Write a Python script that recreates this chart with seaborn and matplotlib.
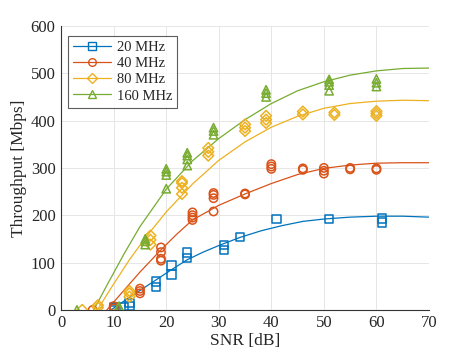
import numpy as np
import pandas as pd
import seaborn as sns
import matplotlib
matplotlib.use('Agg')
import matplotlib.pyplot as plt
from matplotlib.lines import Line2D

# measured points (SNR dB, throughput Mbps), several runs per SNR
snr_20 = [10, 10, 10, 12, 13, 13, 18, 18, 21, 21, 24, 24, 31, 31, 34, 41, 51, 61, 61]
thr_20 = [0, 3, 6, 5, 8, 14, 48, 60, 75, 94, 109, 121, 127, 137, 154, 192, 192, 193, 185]

snr_40 = [6, 10, 10, 15, 15, 15, 19, 19, 19, 19, 25, 25, 25, 25, 29, 29, 29, 29,
          35, 35, 40, 40, 40, 46, 46, 50, 50, 50, 55, 55, 60, 60]
thr_40 = [0, 3, 8, 35, 40, 45, 104, 108, 122, 132, 190, 195, 200, 206, 208, 236, 243, 247,
          244, 246, 298, 303, 308, 296, 299, 288, 294, 300, 297, 300, 296, 299]

snr_80 = [4, 7, 7, 13, 13, 13, 17, 17, 17, 23, 23, 23, 23, 28, 28, 28, 35, 35, 35,
          39, 39, 39, 46, 46, 52, 52, 60, 60, 60]
thr_80 = [0, 5, 10, 28, 35, 40, 138, 148, 157, 245, 258, 268, 272, 326, 334, 342, 378, 385, 392,
          395, 402, 410, 413, 419, 412, 417, 410, 415, 420]

snr_160 = [3, 11, 11, 16, 16, 16, 20, 20, 20, 20, 24, 24, 24, 24, 29, 29, 29,
           39, 39, 39, 51, 51, 51, 51, 60, 60, 60]
thr_160 = [0, 5, 8, 138, 145, 150, 256, 285, 292, 298, 305, 318, 326, 332, 370, 378, 385,
           450, 458, 465, 463, 475, 482, 487, 472, 480, 488]

# fitted curves
fit_x_20 = [9.5, 12, 15, 18, 21, 24, 27, 30, 34, 38, 42, 46, 50, 55, 60, 65, 70]
fit_y_20 = [0, 19, 41, 63, 85, 106, 122, 136, 153, 167, 178, 187, 192, 196, 198, 198, 196]

fit_x_40 = [8.7, 12, 15, 19, 22, 25, 30, 35, 40, 45, 50, 55, 60, 65, 70]
fit_y_40 = [0, 42, 80, 127, 160, 190, 221, 245, 267, 286, 299, 306, 310, 311, 311]

fit_x_80 = [6.9, 10, 13, 16, 20, 25, 30, 35, 40, 45, 50, 55, 60, 65, 70]
fit_y_80 = [0, 55, 106, 152, 207, 266, 316, 355, 386, 409, 426, 436, 441, 443, 442]

fit_x_160 = [6.2, 9, 12, 15, 20, 25, 30, 35, 40, 45, 50, 55, 60, 65, 70]
fit_y_160 = [0, 58, 119, 176, 255, 315, 362, 402, 436, 463, 482, 496, 505, 510, 511]

labels = ['20 MHz', '40 MHz', '80 MHz', '160 MHz']
colors = ['#0072BD', '#D95319', '#EDB120', '#77AC30']
markers = ['s', 'o', 'D', '^']

pts = [(snr_20, thr_20), (snr_40, thr_40), (snr_80, thr_80), (snr_160, thr_160)]
fits = [(fit_x_20, fit_y_20), (fit_x_40, fit_y_40), (fit_x_80, fit_y_80), (fit_x_160, fit_y_160)]

sns.set_style('white')
plt.rcParams['font.family'] = ['Liberation Serif', 'DejaVu Serif']

fig, ax = plt.subplots(figsize=(4.74, 3.55), dpi=100)
fig.subplots_adjust(left=0.129, right=0.905, bottom=0.127, top=0.927)

for (fx, fy), c in zip(fits, colors):
    sns.lineplot(x=fx, y=fy, color=c, lw=0.9, ax=ax, sort=False, zorder=2)

for (sx, sy), c, m in zip(pts, colors, markers):
    size = 30 if m == 'D' else 36
    sns.scatterplot(x=sx, y=sy, marker=m, s=size, facecolors='none', edgecolors=c,
                    linewidth=1.1, ax=ax, zorder=3)

ax.set_xlim(0, 70)
ax.set_ylim(0, 600)
ax.set_xticks(range(0, 71, 10))
ax.set_yticks(range(0, 601, 100))
ax.grid(True, color='#e6e6e6', lw=0.7)
ax.set_axisbelow(True)
for s in ['top', 'right']:
    ax.spines[s].set_visible(False)
for s in ['left', 'bottom']:
    ax.spines[s].set_color('#333333')
    ax.spines[s].set_linewidth(0.8)
ax.tick_params(direction='in', length=3, width=0.7, color='#333333',
               labelsize=12, labelcolor='#262626', pad=4)
ax.set_xlabel('SNR [dB]', fontsize=12.5, color='#262626', labelpad=1)
ax.set_ylabel('Throughput [Mbps]', fontsize=12.5, color='#262626', labelpad=3)

handles = [Line2D([0], [0], color=c, lw=0.9, marker=m, markersize=5.5 if m != 'D' else 5,
                  markerfacecolor='none', markeredgecolor=c, markeredgewidth=1.0)
           for c, m in zip(colors, markers)]
leg = ax.legend(handles, labels, loc='upper left', bbox_to_anchor=(0.018, 0.965),
                fontsize=10.5, frameon=True, fancybox=False, borderpad=0.35,
                handlelength=2.6, handletextpad=0.4, labelspacing=0.2, borderaxespad=0)
leg.get_frame().set_edgecolor('#333333')
leg.get_frame().set_linewidth(0.8)

fig.savefig('out.png', dpi=100)
